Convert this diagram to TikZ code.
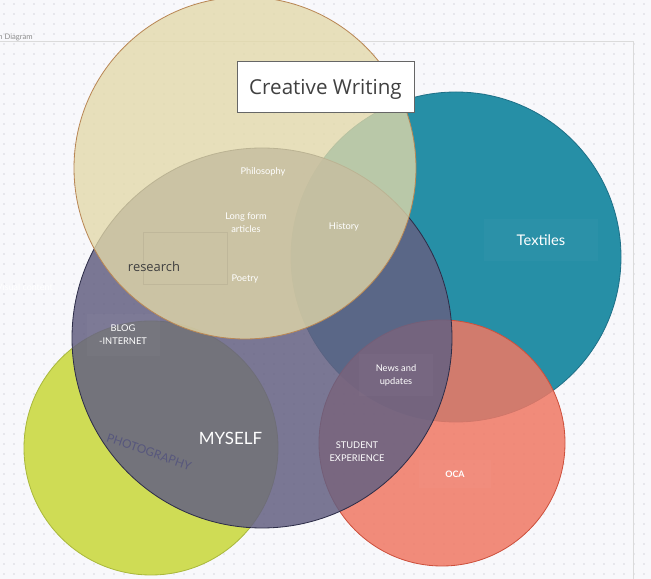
\documentclass[tikz,border=0pt]{standalone}
\usepackage{fontspec}
\setmainfont{Lato}
\newfontfamily\opensans{Open Sans}
\usetikzlibrary{shadows}

\definecolor{paper}{RGB}{248,248,251}
\definecolor{griddot}{RGB}{214,214,222}
\definecolor{colwriting}{RGB}{227,217,169}
\definecolor{colwritingline}{RGB}{185,135,85}
\definecolor{colself}{RGB}{100,97,130}
\definecolor{colselfline}{RGB}{45,45,72}
\definecolor{coltextiles}{RGB}{38,143,166}
\definecolor{coltextilesline}{RGB}{30,112,135}
\definecolor{coloca}{RGB}{240,120,100}
\definecolor{colocaline}{RGB}{205,80,60}
\definecolor{colphoto}{RGB}{207,220,85}
\definecolor{colphotoline}{RGB}{170,185,60}
\definecolor{colphototext}{RGB}{80,80,125}

\begin{document}
\begin{tikzpicture}[x=0.85pt, y=-0.85pt, set/.style={circle, draw, line width=0.7pt, inner sep=0pt}, lbl/.style={text=white, align=center, font=\fontsize{7.9}{11}\selectfont}, tbox/.style={fill=white, fill opacity=0.025, text opacity=1, inner sep=0pt}]
            % background
            \fill[paper] (0,0) rectangle (651,579);
            \useasboundingbox (0,0) rectangle (651,579);
            \clip (0,0) rectangle (651,579);
            \foreach \x in {4,14,...,644}
                \foreach \y in {4,14,...,574}
                    \fill[griddot] (\x,\y) circle (0.8);
            \draw[black!14, line width=0.8pt] (0,41) -- (633,41) -- (633,579);
            \node[anchor=base east, inner sep=0pt, text=black!45, font=\fontsize{6.5}{8}\selectfont] (diagram) at (33,40) {Venn Diagram};
            \node[anchor=east, inner sep=0pt, text=white, font=\fontsize{7.6}{9}\selectfont] (visual) at (53,287) {Visual content};
            % sets
            \node[set, fill=colphoto, draw=colphotoline, minimum size=254*0.85pt] (photo) at (151,448) {};
            \node[set, fill=coltextiles, draw=coltextilesline, minimum size=330*0.85pt] (textiles) at (456,257) {};
            \node[set, fill=coloca, fill opacity=0.85, draw=colocaline, minimum size=246*0.85pt] (oca) at (442,443) {};
            \node[set, fill=colself, fill opacity=0.85, draw=colselfline, minimum size=380*0.85pt] (self) at (262,338) {};
            \node[set, fill=colwriting, fill opacity=0.78, draw=colwritingline, minimum size=342*0.85pt] (writing) at (245,168) {};
            % labels
            \node[draw=black!60, fill=white, drop shadow={shadow xshift=1pt, shadow yshift=-1pt, opacity=0.3}, minimum width=177*0.85pt, minimum height=51*0.85pt, text depth=0pt, text=black!75, font=\opensans\fontsize{17.5}{20}\selectfont] (writinglbl) at (325.5,86.5) {Creative Writing};
            \node[lbl] (philosophy) at (263,172) {Philosophy};
            \node[lbl] (longform) at (246,223) {Long form\\articles};
            \node[lbl] (history) at (344,227) {History};
            \node[draw=black, draw opacity=0.06, minimum width=84*0.85pt, minimum height=52*0.85pt] (researchbox) at (185,258) {};
            \node[inner sep=0pt, text=black!75, font=\opensans\fontsize{11}{13}\selectfont] (research) at (154,267) {research};
            \node[lbl] (poetry) at (245,279) {Poetry};
            \node[lbl, tbox, minimum width=114*0.85pt, minimum height=42*0.85pt, font=\fontsize{12.5}{15}\selectfont] (textileslbl) at (541,240) {Textiles};
            \node[lbl, tbox, minimum width=73*0.85pt, minimum height=42*0.85pt] (blog) at (123,335) {BLOG\\-INTERNET};
            \node[lbl, inner sep=0pt, font=\fontsize{14.4}{17}\selectfont] (myself) at (230.5,438) {MYSELF};
            \node[inner sep=0pt, text=colphototext, text opacity=0.8, rotate=-19, font=\fontsize{10}{12}\selectfont] (photography) at (149,452) {PHOTOGRAPHY};
            \node[lbl, tbox, minimum width=74*0.85pt, minimum height=42*0.85pt] (news) at (396,375) {News and\\updates};
            \node[lbl] (student) at (357,452) {STUDENT\\EXPERIENCE};
            \node[lbl, tbox, minimum width=72*0.85pt, minimum height=28*0.85pt, font=\bfseries\fontsize{7.6}{9}\selectfont] (ocalbl) at (455,474) {OCA};
        \end{tikzpicture}
\end{document}
